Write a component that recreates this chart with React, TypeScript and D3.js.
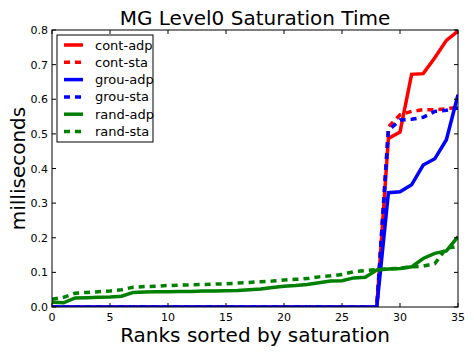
import React from "react";
import * as d3 from "d3";

const ranks = d3.range(0, 36);
const contAdp = [0,0,0,0,0,0,0,0,0,0,0,0,0,0,0,0,0,0,0,0,0,0,0,0,0,0,0,0,0,0.487,0.505,0.672,0.674,0.72,0.77,0.797];
const contSta = [0,0,0,0,0,0,0,0,0,0,0,0,0,0,0,0,0,0,0,0,0,0,0,0,0,0,0,0,0,0.52,0.555,0.565,0.57,0.57,0.572,0.578];
const grouAdp = [0,0,0,0,0,0,0,0,0,0,0,0,0,0,0,0,0,0,0,0,0,0,0,0,0,0,0,0,0,0.33,0.333,0.353,0.41,0.428,0.483,0.613];
const grouSta = [0,0,0,0,0,0,0,0,0,0,0,0,0,0,0,0,0,0,0,0,0,0,0,0,0,0,0,0,0,0.51,0.54,0.542,0.548,0.565,0.568,0.575];
const randAdp = [0.014,0.012,0.026,0.027,0.028,0.029,0.031,0.042,0.043,0.044,0.044,0.045,0.045,0.046,0.046,0.047,0.048,0.05,0.052,0.056,0.06,0.062,0.065,0.07,0.075,0.076,0.084,0.086,0.107,0.11,0.111,0.116,0.14,0.155,0.162,0.203];
const randSta = [0.022,0.028,0.04,0.042,0.044,0.046,0.05,0.057,0.059,0.06,0.062,0.063,0.064,0.065,0.066,0.067,0.069,0.071,0.073,0.075,0.078,0.08,0.082,0.087,0.09,0.094,0.102,0.105,0.108,0.11,0.112,0.116,0.118,0.125,0.17,0.175];

const xTicks = [0, 5, 10, 15, 20, 25, 30, 35];
const yTicks = [0, 0.1, 0.2, 0.3, 0.4, 0.5, 0.6, 0.7, 0.8];

const series = [
  { name: "cont-adp", values: contAdp, color: "#ff0000", dashed: false },
  { name: "cont-sta", values: contSta, color: "#ff0000", dashed: true },
  { name: "grou-adp", values: grouAdp, color: "#0000ff", dashed: false },
  { name: "grou-sta", values: grouSta, color: "#0000ff", dashed: true },
  { name: "rand-adp", values: randAdp, color: "#008000", dashed: false },
  { name: "rand-sta", values: randSta, color: "#008000", dashed: true },
];

export default function App() {
  const W = 474, H = 355;
  const L = 52, R = 458, T = 30, B = 307;
  const x = d3.scaleLinear().domain([0, 35]).range([L, R]);
  const y = d3.scaleLinear().domain([0, 0.8]).range([B, T]);
  const line = (vals: number[]) =>
    d3.line<number>().x((_, i) => x(ranks[i])).y((v) => y(v))(vals) || "";
  const font = "DejaVu Sans, sans-serif";
  return (
    <svg width={W} height={H} style={{ position: "absolute", left: 0, top: 0, background: "#fff" }}>
      <defs>
        <clipPath id="plot">
          <rect x={L} y={T} width={R - L} height={B - T} />
        </clipPath>
      </defs>
      <rect x={0} y={0} width={W} height={H} fill="#fff" />
      <g clipPath="url(#plot)">
        {series.map((s) => (
          <path key={s.name} d={line(s.values)} fill="none" stroke={s.color}
            strokeWidth={3.5} strokeDasharray={s.dashed ? "6,5" : undefined} />
        ))}
      </g>
      <rect x={L} y={T} width={R - L} height={B - T} fill="none" stroke="#000" strokeWidth={1} />
      {xTicks.map((t) => (
        <g key={"x" + t}>
          <line x1={x(t)} x2={x(t)} y1={B} y2={B - 4} stroke="#000" />
          <line x1={x(t)} x2={x(t)} y1={T} y2={T + 4} stroke="#000" />
          <text x={x(t)} y={B + 14} fontSize={11} fontFamily={font} textAnchor="middle">{t}</text>
        </g>
      ))}
      {yTicks.map((t) => (
        <g key={"y" + t}>
          <line x1={L} x2={L + 4} y1={y(t)} y2={y(t)} stroke="#000" />
          <line x1={R} x2={R - 4} y1={y(t)} y2={y(t)} stroke="#000" />
          <text x={L - 4} y={y(t) + 4} fontSize={11} fontFamily={font} textAnchor="end">{t.toFixed(1)}</text>
        </g>
      ))}
      <text x={(L + R) / 2} y={25} fontSize={20} fontFamily={font} textAnchor="middle">MG Level0 Saturation Time</text>
      <text x={(L + R) / 2} y={342} fontSize={20} fontFamily={font} textAnchor="middle">Ranks sorted by saturation</text>
      <text transform={`translate(25,${(T + B) / 2}) rotate(-90)`} fontSize={20} fontFamily={font} textAnchor="middle">milliseconds</text>
      <g>
        <rect x={57} y={35} width={96} height={107} fill="#fff" stroke="#000" strokeWidth={1} />
        {series.map((s, i) => {
          const yy = 45 + i * 17.3;
          return (
            <g key={"lg" + s.name}>
              <line x1={64} x2={83} y1={yy} y2={yy} stroke={s.color} strokeWidth={3.5}
                strokeDasharray={s.dashed ? "6,5" : undefined} />
              <text x={95} y={yy + 4.5} fontSize={13} fontFamily={font}>{s.name}</text>
            </g>
          );
        })}
      </g>
    </svg>
  );
}
